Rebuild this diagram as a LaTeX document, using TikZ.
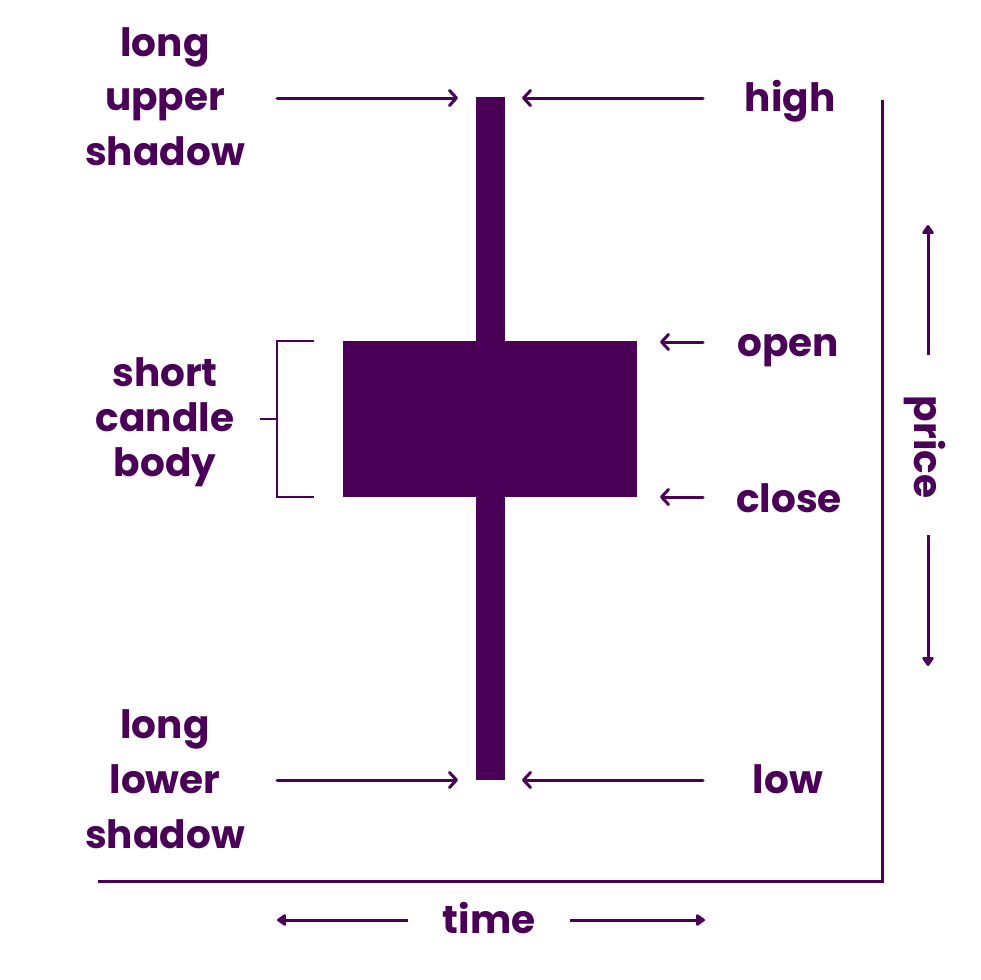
\documentclass[tikz,border=0pt]{standalone}
\usepackage{fontspec}
\setmainfont{Poppins}
\usetikzlibrary{arrows.meta}
\definecolor{pp}{HTML}{4B0058}
\begin{document}
\begin{tikzpicture}[x=1pt,y=-1pt,
  lbl/.style={text=pp, inner sep=0pt, anchor=base, font=\fontsize{39}{48}\selectfont\bfseries},
  ptr/.style={draw=pp, line width=3pt, line cap=round, -{Straight Barb[length=7pt,width=15pt,round]}},
  axarrow/.style={draw=pp, line width=3pt, -{Triangle[length=10pt,width=13pt,round]}},
  candle/.style={fill=pp, draw=none, inner sep=0pt},
  axis/.style={draw=pp, line width=3pt},
  brk/.style={draw=pp, line width=2.5pt}]
\path[use as bounding box] (0,0) rectangle (980,980);
% candle
\node[candle, minimum width=29pt, minimum height=683pt] (wick) at (490.5,438.5) {};
\node[candle, minimum width=294pt, minimum height=156pt] (body) at (490,419) {};
% left labels
\node[lbl] (upper1) at (165,56) {long};
\node[lbl] (upper2) at (165,110.5) {upper};
\node[lbl] (upper3) at (165,165) {shadow};
\node[lbl] (body1) at (165,386) {short};
\node[lbl] (body2) at (165,431) {candle};
\node[lbl] (body3) at (165,476) {body};
\node[lbl] (lower1) at (165,738) {long};
\node[lbl] (lower2) at (165,793) {lower};
\node[lbl] (lower3) at (165,848) {shadow};
% right labels
\node[lbl] (high) at (790,111) {high};
\node[lbl] (open) at (788,356) {open};
\node[lbl] (close) at (789,512) {close};
\node[lbl] (low) at (788,793) {low};
\node[lbl] (time) at (489,933) {time};
\node[lbl, rotate=-90] (price) at (914,447) {price};
% pointer coordinates
\coordinate (hL0) at (277,98); \coordinate (hL1) at (458,98);
\coordinate (hR0) at (703,98); \coordinate (hR1) at (522,98);
\coordinate (lL0) at (277,780); \coordinate (lL1) at (458,780);
\coordinate (lR0) at (703,780); \coordinate (lR1) at (522,780);
\coordinate (o0) at (703,342); \coordinate (o1) at (660,342);
\coordinate (c0) at (703,497); \coordinate (c1) at (660,497);
\draw[ptr] (hL0) -- (hL1);
\draw[ptr] (hR0) -- (hR1);
\draw[ptr] (lL0) -- (lL1);
\draw[ptr] (lR0) -- (lR1);
\draw[ptr] (o0) -- (o1);
\draw[ptr] (c0) -- (c1);
% bracket
\coordinate (b1) at (314,341); \coordinate (b2) at (277,341);
\coordinate (b3) at (277,497); \coordinate (b4) at (314,497);
\coordinate (b5) at (260,419); \coordinate (b6) at (277,419);
\draw[brk] (b1) -- (b2) -- (b3) -- (b4);
\draw[brk] (b5) -- (b6);
% axes
\coordinate (ax0) at (98,881); \coordinate (ax1) at (882,881); \coordinate (ax2) at (882,100);
\draw[axis] (ax0) -- (ax1) -- (ax2);
% time / price arrows
\coordinate (t0) at (408,920); \coordinate (t1) at (277,920);
\coordinate (t2) at (570,920); \coordinate (t3) at (705,920);
\coordinate (p0) at (928,355); \coordinate (p1) at (928,225);
\coordinate (p2) at (928,535); \coordinate (p3) at (928,666);
\draw[axarrow] (t0) -- (t1);
\draw[axarrow] (t2) -- (t3);
\draw[axarrow] (p0) -- (p1);
\draw[axarrow] (p2) -- (p3);
\end{tikzpicture}
\end{document}
